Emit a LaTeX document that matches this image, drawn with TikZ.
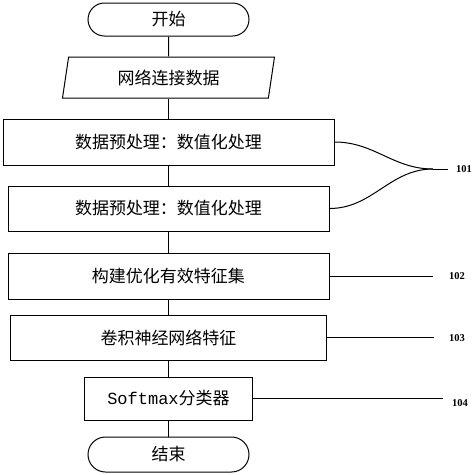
\documentclass[tikz,border=0pt]{standalone}
\usepackage{fontspec}
\setmainfont{Liberation Serif}
\setmonofont{Liberation Mono}
\newfontfamily\cjk{Noto Sans CJK SC}
\usetikzlibrary{shapes.geometric,shapes.misc}

\begin{document}
\begin{tikzpicture}[x=1pt,y=-1pt,line width=1pt,
    box/.style={draw,rectangle,inner sep=0pt,font=\cjk\fontsize{17}{19}\selectfont},
    term/.style={draw,rounded rectangle,inner sep=0pt,minimum width=161pt,font=\cjk\fontsize{17}{19}\selectfont},
    inbox/.style={draw,trapezium,trapezium left angle=69,trapezium right angle=111,
        trapezium stretches body,inner sep=0pt,minimum width=212pt,minimum height=41pt,
        font=\cjk\fontsize{17}{19}\selectfont},
    num/.style={inner sep=0pt,font=\fontsize{10.5}{12}\selectfont\bfseries}]
        \useasboundingbox (0,0) rectangle (474,475);

        % Draw flow nodes
        \node[term,minimum height=33pt] (start) at (168.5,19.5) {开始};
        \node[inbox] (data) at (168.5,77.5) {网络连接数据};
        \node[box,minimum width=331pt,minimum height=46pt] (pre1) at (168.5,142) {数据预处理：数值化处理};
        \node[box,minimum width=321pt,minimum height=45pt] (pre2) at (168.5,208.5) {数据预处理：数值化处理};
        \node[box,minimum width=321pt,minimum height=46pt] (feat) at (168.5,276) {构建优化有效特征集};
        \node[box,minimum width=316pt,minimum height=45pt] (cnn) at (168.5,337.5) {卷积神经网络特征};
        \node[box,minimum width=168pt,minimum height=43pt] (soft) at (168.5,398.5) {{\ttfamily Softmax}分类器};
        \node[term,minimum height=35pt] (stop) at (168.5,454.5) {结束};

        % Draw flow lines
        \draw (start) -- (data);
        \draw (data) -- (pre1);
        \draw (pre1) -- (pre2);
        \draw (pre2) -- (feat);
        \draw (feat) -- (cnn);
        \draw (cnn) -- (soft);
        \draw (soft) -- (stop);

        % Draw reference numbers
        \node[num] (n101) at (464,169) {101};
        \node[num] (n102) at (457,276) {102};
        \node[num] (n103) at (457,338) {103};
        \node[num] (n104) at (460,403) {104};
        \coordinate (k101) at (433,169);
        \coordinate (e101) at (448,169);
        \coordinate (e102) at (433,276);
        \coordinate (e103) at (434,337.5);
        \coordinate (e104) at (443,398.5);
        \draw (pre1.east) to[out=0,in=180] (k101);
        \draw (pre2.east) to[out=0,in=180] (k101);
        \draw (k101) -- (e101);
        \draw (feat.east) -- (e102);
        \draw (cnn.east) -- (e103);
        \draw (soft.east) -- (e104);
    \end{tikzpicture}
\end{document}
